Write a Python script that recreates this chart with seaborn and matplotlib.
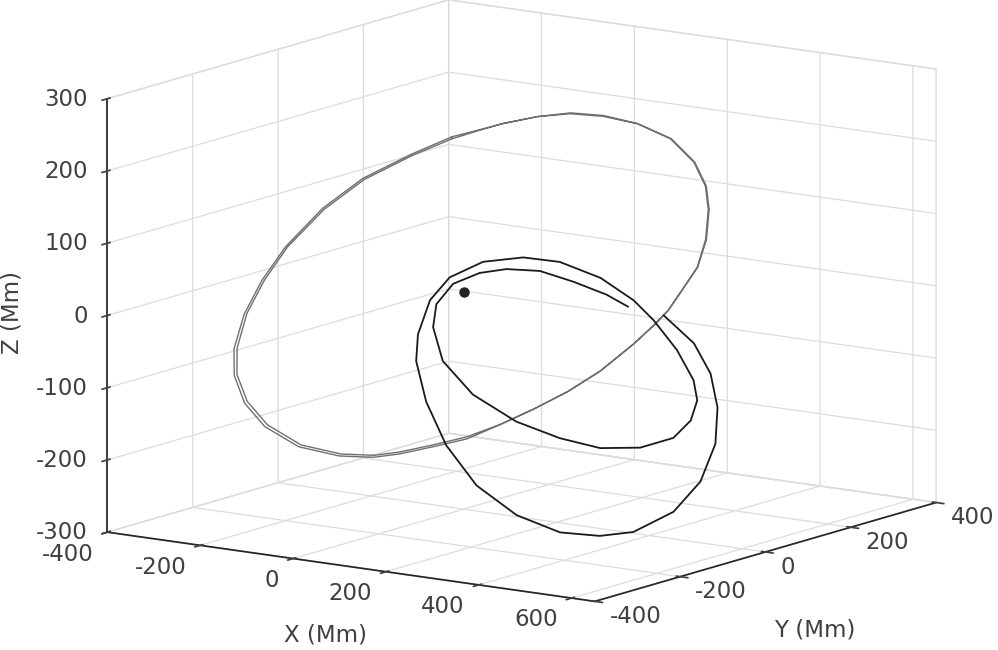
import matplotlib
matplotlib.use("Agg")
import matplotlib.pyplot as plt
import seaborn as sns

sns.set_theme(style="white")
plt.rcParams['font.family'] = ['DejaVu Sans']
plt.rcParams['axes.unicode_minus'] = False

# Moon orbit (Mm), two revolutions
moon_x = [-257, -217, -194, -147, -96, -35, 33, 113, 188, 245, 286, 328, 356, 365, 374, 372, 366, 352, 328,
          298, 265, 228, 183, 138, 100, 42, -40, -128, -198, -257, -298, -334, -356, -369, -364, -343, -299, -257,
          -260, -218, -195, -147, -96, -35, 33, 113, 189, 246, 287, 329, 357, 366, 375, 373, 367, 353, 329,
          299, 266, 231, 185, 140, 101, 42, -41, -130, -200, -260, -302, -338, -360, -373, -368, -347, -303, -260]
moon_y = [252, 286, 303, 332, 354, 365, 371, 362, 335, 300, 262, 210, 160, 117, 72, 39, -1, -64, -114,
          -162, -204, -241, -272, -300, -318, -333, -338, -321, -292, -252, -207, -145, -80, -12, 69, 140, 203, 252,
          255, 287, 304, 333, 355, 366, 372, 363, 336, 301, 263, 211, 160, 117, 72, 39, -1, -64, -114,
          -163, -205, -244, -275, -304, -322, -337, -342, -325, -296, -255, -210, -147, -81, -12, 70, 141, 205, 255]
moon_z = [146, 158, 164, 173, 178, 178, 173, 161, 140, 118, 96, 67, 40, 19, -3, -19, -38, -66, -88,
          -107, -124, -138, -148, -157, -162, -163, -157, -140, -119, -94, -69, -35, -2, 31, 70, 101, 127, 146,
          148, 158, 164, 173, 179, 179, 173, 161, 140, 118, 96, 67, 40, 19, -3, -19, -38, -66, -88,
          -107, -124, -140, -150, -159, -164, -165, -159, -142, -121, -95, -70, -36, -2, 31, 71, 102, 128, 148]

# spacecraft trajectory (Mm)
sc_x = [234, 302, 358, 408, 453, 486, 497, 482, 453, 407, 341, 261, 178, 102, 40, 7, -24, -34, -20, 16, 59, 122,
        184, 230, 293, 349, 379, 398, 402, 381, 340, 286, 220, 141, 67, 14, -13, -22, -9, 14, 50, 99, 150, 187]
sc_y = [214, 211, 189, 151, 97, 26, -49, -127, -174, -217, -247, -254, -235, -199, -155, -115, -53, 4, 67, 122,
        161, 188, 198, 195, 181, 159, 135, 99, 54, -1, -50, -86, -116, -132, -122, -87, -50, -1, 47, 85, 124, 150,
        172, 182]
sc_z = [-47, -79, -112, -148, -185, -222, -250, -266, -266, -258, -235, -200, -155, -108, -65, -38, -4, 17, 29,
        29, 20, -1, -28, -51, -84, -117, -138, -158, -174, -180, -176, -161, -139, -106, -68, -32, -9, 10, 18, 19,
        13, -2, -19, -34]

# Earth
earth = [0, 0, 0]

x_ticks = [-400, -200, 0, 200, 400, 600]
y_ticks = [-400, -200, 0, 200, 400]
z_ticks = [-300, -200, -100, 0, 100, 200, 300]

fs = 16.5
txt = '#404040'

fig = plt.figure(figsize=(9.98, 6.5), dpi=100)
ax = fig.add_axes([0.014, 0.024, 1, 1], projection='3d', proj_type='ortho')
ax.view_init(elev=11.7, azim=-55)
ax.set_box_aspect((1, 1, 0.744), zoom=1.42)

ax.plot(moon_x, moon_y, moon_z, color='#707070', lw=1.0)
ax.plot(sc_x, sc_y, sc_z, color='#1a1a1a', lw=1.3)
ax.plot([earth[0]], [earth[1]], [earth[2]], 'o', color='#222222', ms=6.5)

ax.set_xlim(-400, 650)
ax.set_ylim(-400, 400)
ax.set_zlim(-300, 300)
ax.set_xticks(x_ticks)
ax.set_yticks(y_ticks)
ax.set_zticks(z_ticks)

ax.zaxis.set_ticks_position('lower')

for axis in (ax.xaxis, ax.yaxis, ax.zaxis):
    axis.set_pane_color((1, 1, 1, 1))
    axis.pane.set_edgecolor('#dcdcdc')
    axis.line.set_color('#262626')
    axis._axinfo['grid'].update(color='#dcdcdc', linewidth=0.9)
ax.grid(True)

ax.tick_params(labelsize=fs, colors=txt)
ax.tick_params(axis='x', pad=2.0)
ax.tick_params(axis='y', pad=-0.7)
ax.tick_params(axis='z', pad=-2.2)
plt.setp(ax.xaxis.get_majorticklabels(), ha='right', va='center')
plt.setp(ax.yaxis.get_majorticklabels(), ha='left', va='center')
plt.setp(ax.zaxis.get_majorticklabels(), ha='right', va='center')

# axis titles placed like the MATLAB original (horizontal X/Y, vertical Z)
fig.text(325 / 998, 1 - 635 / 650, 'X (Mm)', fontsize=fs, color=txt, ha='center', va='center')
fig.text(815 / 998, 1 - 630 / 650, 'Y (Mm)', fontsize=fs, color=txt, ha='center', va='center')
fig.text(12 / 998, 1 - 312 / 650, 'Z (Mm)', fontsize=fs, color=txt, ha='center', va='center', rotation=90)

fig.savefig('out.png', dpi=100)
plt.close(fig)
